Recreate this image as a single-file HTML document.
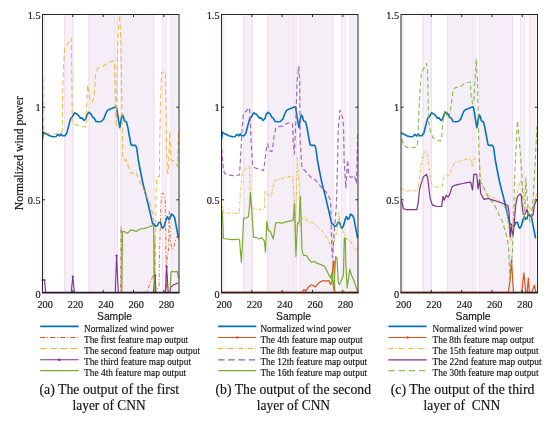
<!DOCTYPE html>
<html><head><meta charset="utf-8"><style>
html,body{margin:0;padding:0;background:#fff;}
body{width:550px;height:425px;overflow:hidden;}
svg{display:block;filter:blur(0.25px);}
text{font-family:"Liberation Serif","Times New Roman",serif;fill:#111;stroke:#111;stroke-width:0.15px;}
.s{font-family:"Liberation Sans",Arial,sans-serif;}
</style></head><body>
<svg width="550" height="425" viewBox="0 0 550 425">
<rect x="0" y="0" width="550" height="425" fill="#fff"/>

<defs><clipPath id="clip0"><rect x="42.5" y="13.5" width="136.5" height="280.0"/></clipPath><clipPath id="clip1"><rect x="221.5" y="13.5" width="136.5" height="280.0"/></clipPath><clipPath id="clip2"><rect x="401.0" y="13.5" width="136.5" height="280.0"/></clipPath></defs>
<rect x="43.3" y="14.5" width="2.0" height="278.0" fill="#f5ebf6"/>
<rect x="64.1" y="14.5" width="9.4" height="278.0" fill="#f7f0f8"/>
<rect x="88.4" y="14.5" width="29.3" height="278.0" fill="#f6eef7"/>
<rect x="120.4" y="14.5" width="34.1" height="278.0" fill="#f6eef7"/>
<rect x="162.1" y="14.5" width="4.0" height="278.0" fill="#f8f1f9"/>
<rect x="166.1" y="14.5" width="4.8" height="278.0" fill="#fcf9fd"/>
<rect x="170.9" y="14.5" width="6.8" height="278.0" fill="#f6eef7"/>
<rect x="64.10" y="14.5" width="1.2" height="278.0" fill="#efdef1"/>
<rect x="72.30" y="14.5" width="1.2" height="278.0" fill="#efdef1"/>
<rect x="88.40" y="14.5" width="1.2" height="278.0" fill="#efdef1"/>
<rect x="113.90" y="14.5" width="0.8" height="278.0" fill="#efdef1"/>
<rect x="117.05" y="14.5" width="0.9" height="278.0" fill="#efdef1"/>
<rect x="120.35" y="14.5" width="0.9" height="278.0" fill="#efdef1"/>
<rect x="153.65" y="14.5" width="0.9" height="278.0" fill="#efdef1"/>
<rect x="161.85" y="14.5" width="0.9" height="278.0" fill="#efdef1"/>
<rect x="165.80" y="14.5" width="0.8" height="278.0" fill="#efdef1"/>
<rect x="170.65" y="14.5" width="0.9" height="278.0" fill="#efdef1"/>
<rect x="222.3" y="14.5" width="2.0" height="278.0" fill="#f5ebf6"/>
<rect x="243.1" y="14.5" width="9.4" height="278.0" fill="#f7f0f8"/>
<rect x="267.4" y="14.5" width="29.3" height="278.0" fill="#f6eef7"/>
<rect x="299.4" y="14.5" width="34.1" height="278.0" fill="#f6eef7"/>
<rect x="341.1" y="14.5" width="4.0" height="278.0" fill="#f8f1f9"/>
<rect x="345.1" y="14.5" width="4.8" height="278.0" fill="#fcf9fd"/>
<rect x="349.9" y="14.5" width="6.8" height="278.0" fill="#f6eef7"/>
<rect x="243.10" y="14.5" width="1.2" height="278.0" fill="#efdef1"/>
<rect x="251.30" y="14.5" width="1.2" height="278.0" fill="#efdef1"/>
<rect x="267.40" y="14.5" width="1.2" height="278.0" fill="#efdef1"/>
<rect x="292.90" y="14.5" width="0.8" height="278.0" fill="#efdef1"/>
<rect x="296.05" y="14.5" width="0.9" height="278.0" fill="#efdef1"/>
<rect x="299.35" y="14.5" width="0.9" height="278.0" fill="#efdef1"/>
<rect x="332.65" y="14.5" width="0.9" height="278.0" fill="#efdef1"/>
<rect x="340.85" y="14.5" width="0.9" height="278.0" fill="#efdef1"/>
<rect x="344.80" y="14.5" width="0.8" height="278.0" fill="#efdef1"/>
<rect x="349.65" y="14.5" width="0.9" height="278.0" fill="#efdef1"/>
<rect x="401.8" y="14.5" width="2.0" height="278.0" fill="#f5ebf6"/>
<rect x="422.6" y="14.5" width="9.4" height="278.0" fill="#f7f0f8"/>
<rect x="446.9" y="14.5" width="29.3" height="278.0" fill="#f6eef7"/>
<rect x="478.9" y="14.5" width="34.1" height="278.0" fill="#f6eef7"/>
<rect x="520.6" y="14.5" width="4.0" height="278.0" fill="#f8f1f9"/>
<rect x="524.6" y="14.5" width="4.8" height="278.0" fill="#fcf9fd"/>
<rect x="529.4" y="14.5" width="6.8" height="278.0" fill="#f6eef7"/>
<rect x="422.60" y="14.5" width="1.2" height="278.0" fill="#efdef1"/>
<rect x="430.80" y="14.5" width="1.2" height="278.0" fill="#efdef1"/>
<rect x="446.90" y="14.5" width="1.2" height="278.0" fill="#efdef1"/>
<rect x="472.40" y="14.5" width="0.8" height="278.0" fill="#efdef1"/>
<rect x="475.55" y="14.5" width="0.9" height="278.0" fill="#efdef1"/>
<rect x="478.85" y="14.5" width="0.9" height="278.0" fill="#efdef1"/>
<rect x="512.15" y="14.5" width="0.9" height="278.0" fill="#efdef1"/>
<rect x="520.35" y="14.5" width="0.9" height="278.0" fill="#efdef1"/>
<rect x="524.30" y="14.5" width="0.8" height="278.0" fill="#efdef1"/>
<rect x="529.15" y="14.5" width="0.9" height="278.0" fill="#efdef1"/>
<g fill="none" stroke-linejoin="round" stroke-linecap="butt">
<g clip-path="url(#clip0)">
<polyline points="42.5,139.0 43.3,132.0 44.5,133.3 47.1,134.3 49.6,135.8 53.5,136.8 56.0,136.5 57.9,134.3 59.8,135.8 61.1,133.9 62.4,135.8 64.9,135.8 66.8,133.3 68.7,125.6 70.6,118.5 72.5,116.6 74.5,112.8 77.0,114.1 78.9,116.0 80.5,118.3 82.1,117.9 84.0,120.5 85.9,118.5 87.2,114.1 89.1,112.2 91.0,114.1 92.9,117.3 94.2,118.2 96.1,121.5 98.6,121.7 101.2,121.5 103.7,119.2 105.6,114.0 107.4,110.4 109.5,109.3 111.6,108.6 113.8,107.5 115.9,106.8 116.6,107.9 117.3,112.1 118.4,119.2 119.8,127.6 121.2,119.2 122.2,115.0 123.3,116.3 124.3,120.6 126.5,122.0 127.9,127.6 129.1,134.5 131.0,144.7 132.9,145.4 135.5,145.4 136.7,148.0 138.3,160.0 140.4,171.0 142.4,181.0 144.3,189.0 146.2,196.0 147.6,202.0 149.0,208.0 150.6,214.9 152.6,223.5 154.2,224.5 155.5,226.2 157.2,225.8 158.8,222.5 160.5,222.2 161.8,227.2 162.8,228.2 164.4,225.8 166.1,219.3 167.4,216.6 168.7,219.3 170.0,218.6 171.4,214.0 173.3,215.3 174.7,217.9 176.0,225.2 177.3,231.8 178.6,238.4" stroke="#0072BD" stroke-width="1.6"/>
<polyline points="42.5,292.5 120.5,292.5 121.2,226.6 121.9,292.5 146.9,292.3 149.5,284.6 152.9,275.9 154.0,277.0 154.7,240.0 155.2,292.0 159.0,286.0 159.6,250.0 160.6,215.0 161.2,200.0 161.9,193.4 163.5,193.5 164.1,194.5 165.2,200.0 165.8,240.0 166.4,290.0 167.0,260.0 168.5,250.0 169.2,210.7 169.6,212.0 170.2,240.0 171.8,249.3 174.1,246.2 174.9,242.4 176.2,238.5 177.3,236.0 178.5,240.0" stroke="#D95319" stroke-width="0.95" stroke-dasharray="4,2,1.2,2" stroke-opacity="0.85"/>
<polyline points="42.8,77.0 43.2,100.0 43.5,129.0 44.5,131.5 47.0,133.0 49.6,134.5 55.0,134.0 60.0,133.0 62.2,131.0 62.6,100.0 63.4,68.0 64.7,48.4 67.5,44.5 71.3,38.2 71.8,80.0 72.3,123.0 73.8,123.7 80.2,126.3 85.9,126.9 86.5,110.0 87.5,88.0 87.8,85.0 89.7,99.0 92.3,102.3 94.2,95.0 95.5,75.0 98.0,68.0 103.0,66.6 108.2,62.4 112.5,61.1 114.5,62.0 115.3,90.0 116.3,127.0 117.4,60.0 118.3,30.0 119.6,15.0 120.9,40.0 121.8,100.0 122.5,140.0 122.7,158.7 125.3,160.6 126.6,159.8 128.3,166.4 130.5,172.9 132.6,173.4 135.9,171.8 138.1,178.4 141.4,184.9 145.1,192.3 149.5,202.5 152.8,214.2 154.2,235.0 154.8,285.0 155.5,250.0 155.9,200.0 156.6,177.3 159.4,176.2 159.6,150.0 160.3,110.0 161.5,72.4 165.4,71.7 166.0,110.0 166.6,150.0 167.5,173.0 168.3,173.0 169.7,131.8 170.5,150.0 171.0,160.0 173.0,161.0 175.2,162.0 177.4,166.4 178.2,150.0 178.5,133.0" stroke="#EDB120" stroke-width="1.05" stroke-dasharray="5,3" stroke-opacity="0.85"/>
<polyline points="42.5,280.0 44.5,280.0 45.7,292.5 71.2,292.5 72.8,276.7 74.4,292.5 115.3,292.5 116.6,255.7 118.3,292.5 153.3,292.5 155.2,275.6 155.9,292.5 165.4,292.5 166.6,266.5 168.2,292.5 169.9,292.5 171.0,286.8 172.1,286.1 173.6,284.6 175.1,284.2 176.6,283.5 178.5,283.0" stroke="#7E2F8E" stroke-width="1.1"/>
<polyline points="42.5,292.5 121.7,292.5 122.6,231.5 124.2,231.5 127.5,233.4 130.8,229.8 133.5,230.4 136.2,231.5 139.0,229.8 140.5,229.0 144.4,228.4 147.6,227.5 150.3,226.5 152.9,225.2 153.6,225.0 154.3,292.5 169.9,292.5 171.0,271.8 172.1,271.4 174.4,271.8 176.6,271.4 177.4,271.8 178.5,278.0" stroke="#77AC30" stroke-width="1.2"/>
</g>
<g clip-path="url(#clip1)">
<polyline points="221.6,139.0 222.4,132.0 223.6,133.3 226.2,134.3 228.7,135.8 232.6,136.8 235.1,136.5 237.0,134.3 238.9,135.8 240.2,133.9 241.5,135.8 244.0,135.8 245.9,133.3 247.8,125.6 249.7,118.5 251.6,116.6 253.6,112.8 256.1,114.1 258.0,116.0 259.6,118.3 261.2,117.9 263.1,120.5 265.0,118.5 266.3,114.1 268.2,112.2 270.1,114.1 272.0,117.3 273.3,118.2 275.2,121.5 277.7,121.7 280.3,121.5 282.8,119.2 284.7,114.0 286.5,110.4 288.6,109.3 290.7,108.6 292.9,107.5 295.0,106.8 295.7,107.9 296.4,112.1 297.5,119.2 298.9,127.6 300.3,119.2 301.3,115.0 302.4,116.3 303.4,120.6 305.6,122.0 307.0,127.6 308.2,134.5 310.1,144.7 312.0,145.4 314.6,145.4 315.8,148.0 317.4,160.0 319.5,171.0 321.5,181.0 323.4,189.0 325.3,196.0 326.7,202.0 328.1,208.0 329.7,214.9 331.7,223.5 333.3,224.5 334.6,226.2 336.3,225.8 337.9,222.5 339.6,222.2 340.9,227.2 341.9,228.2 343.5,225.8 345.2,219.3 346.5,216.6 347.8,219.3 349.1,218.6 350.5,214.0 352.4,215.3 353.8,217.9 355.1,225.2 356.4,231.8 357.7,238.4" stroke="#0072BD" stroke-width="1.6"/>
<polyline points="221.5,292.3 302.0,292.3 303.9,289.5 305.8,291.4 308.4,286.9 310.9,285.0 313.5,285.6 315.4,286.9 317.3,284.4 320.5,281.8 323.6,280.5 326.2,281.2 328.7,280.5 330.6,284.4 331.9,281.8 333.2,261.5 334.0,262.0 334.8,292.3 358.5,292.3" stroke="#D95319" stroke-width="1.2"/>
<polyline points="221.5,209.0 222.3,206.0 223.5,212.9 233.7,213.5 239.5,212.9 240.2,195.0 240.7,190.0 242.6,171.0 244.5,170.5 248.4,166.1 249.5,166.5 250.0,185.0 250.5,207.0 251.5,207.8 256.6,209.1 261.7,209.7 264.3,209.1 265.0,191.0 266.2,191.3 268.1,195.1 271.3,196.4 272.5,190.0 274.5,180.7 278.3,179.5 283.4,178.2 287.2,176.9 292.9,176.5 294.1,200.0 295.2,232.0 296.5,190.0 297.6,157.6 298.8,180.0 299.9,226.0 302.5,217.4 304.3,216.5 307.0,221.0 310.3,222.9 313.5,222.3 317.3,226.7 321.1,229.9 324.9,234.4 328.7,240.7 330.6,245.8 331.9,248.4 333.0,252.0 334.5,239.5 337.0,231.8 338.9,212.7 340.2,225.5 344.0,233.1 347.8,240.7 350.4,240.7 353.5,247.1 355.5,249.6 357.0,252.0 358.3,245.0" stroke="#EDB120" stroke-width="1" stroke-dasharray="3,1.5,1,1.5" stroke-opacity="0.9"/>
<polyline points="221.8,149.0 222.5,160.0 223.5,170.5 224.8,173.7 228.6,175.0 233.7,175.6 239.5,175.0 241.0,150.0 242.0,130.0 243.3,114.1 245.8,111.5 248.4,108.7 249.5,107.7 250.3,120.0 251.0,140.0 252.8,166.7 255.4,168.0 259.2,169.3 263.6,170.5 265.0,160.0 266.8,145.0 267.5,143.8 269.4,150.8 271.9,151.5 272.9,146.2 274.0,137.0 275.6,128.4 277.8,126.7 282.2,126.2 286.5,123.4 289.8,122.9 292.5,123.4 293.1,140.0 294.4,154.0 295.8,120.0 297.2,80.0 298.8,66.5 299.7,80.0 300.2,140.0 301.4,160.0 302.0,167.8 307.1,172.9 310.9,177.4 316.0,180.5 321.1,186.9 326.2,192.0 330.6,200.0 331.9,250.0 332.5,257.6 333.8,238.2 336.4,205.1 337.6,160.0 338.3,128.0 339.5,116.5 339.8,110.2 342.5,117.1 343.5,125.0 344.1,160.0 345.9,188.2 347.6,160.0 348.8,175.3 351.2,177.6 354.1,175.3 355.3,178.8 356.5,183.5 357.2,155.0 357.8,133.0" stroke="#9b59b6" stroke-width="1.2" stroke-dasharray="4.6,2.8" stroke-opacity="0.9"/>
<polyline points="221.5,210.0 222.4,213.0 223.4,238.4 224.6,238.6 227.4,239.0 231.2,239.6 235.0,239.6 238.2,239.0 239.5,240.0 241.4,262.3 242.6,240.0 243.6,218.2 245.8,218.0 248.4,216.7 249.6,205.3 250.4,192.5 251.5,205.3 253.5,237.1 256.6,237.7 259.2,239.0 261.7,237.7 264.3,240.9 265.5,252.1 266.8,221.2 268.1,229.5 270.6,232.0 273.2,239.0 275.7,223.1 278.3,222.5 282.1,223.1 285.9,221.8 291.8,220.6 293.2,220.1 294.5,203.6 295.9,256.4 297.6,222.8 299.0,222.8 300.4,196.0 302.0,250.0 303.3,255.1 306.5,255.7 309.0,259.5 311.5,262.1 314.7,261.5 317.3,263.4 321.1,264.6 324.9,266.5 327.5,272.3 330.6,278.0 331.9,272.9 333.8,290.7 335.7,256.4 337.0,257.6 338.3,283.1 339.5,284.4 343.4,275.5 344.3,238.2 345.3,238.2 345.9,265.3 347.2,288.2 349.7,269.1 351.6,275.5 354.8,283.1 357.4,290.7 358.3,292.0" stroke="#77AC30" stroke-width="1.2"/>
</g>
<g clip-path="url(#clip2)">
<polyline points="399.5,139.0 400.3,132.0 401.5,133.3 404.1,134.3 406.6,135.8 410.5,136.8 413.0,136.5 414.9,134.3 416.8,135.8 418.1,133.9 419.4,135.8 421.9,135.8 423.8,133.3 425.7,125.6 427.6,118.5 429.5,116.6 431.5,112.8 434.0,114.1 435.9,116.0 437.5,118.3 439.1,117.9 441.0,120.5 442.9,118.5 444.2,114.1 446.1,112.2 448.0,114.1 449.9,117.3 451.2,118.2 453.1,121.5 455.6,121.7 458.2,121.5 460.7,119.2 462.6,114.0 464.4,110.4 466.5,109.3 468.6,108.6 470.8,107.5 472.9,106.8 473.6,107.9 474.3,112.1 475.4,119.2 476.8,127.6 478.2,119.2 479.2,115.0 480.3,116.3 481.3,120.6 483.5,122.0 484.9,127.6 486.1,134.5 488.0,144.7 489.9,145.4 492.5,145.4 493.7,148.0 495.3,160.0 497.4,171.0 499.4,181.0 501.3,189.0 503.2,196.0 504.6,202.0 506.0,208.0 507.6,214.9 509.6,223.5 511.2,224.5 512.5,226.2 514.2,225.8 515.8,222.5 517.5,222.2 518.8,227.2 519.8,228.2 521.4,225.8 523.1,219.3 524.4,216.6 525.7,219.3 527.0,218.6 528.4,214.0 530.3,215.3 531.7,217.9 533.0,225.2 534.3,231.8 535.6,238.4" stroke="#0072BD" stroke-width="1.6"/>
<polyline points="401.0,292.3 508.4,292.3 510.0,280.5 511.5,261.2 513.5,292.3 521.7,292.3 523.9,272.9 525.8,292.3 527.2,292.3 528.3,278.0 529.3,292.3 531.9,292.3 534.4,285.1 535.9,292.3 537.5,292.3" stroke="#D95319" stroke-width="1.2"/>
<polyline points="401.5,187.5 402.3,189.6 407.4,190.9 413.7,190.9 417.5,189.6 419.5,178.2 421.4,162.9 423.9,152.7 426.5,150.2 427.7,156.5 429.0,168.0 430.3,178.2 432.2,185.8 436.6,187.1 441.7,187.1 442.3,185.8 443.7,177.5 446.4,174.3 449.2,176.1 451.9,168.3 454.7,162.4 458.3,161.5 462.9,160.1 467.5,159.2 470.7,158.7 472.1,166.5 473.9,159.2 475.8,157.8 477.6,159.2 479.4,161.9 480.4,176.6 480.7,182.0 483.3,187.1 486.5,193.5 487.1,194.3 490.1,195.3 494.2,197.9 498.3,200.4 502.3,204.0 505.4,208.6 507.4,214.7 509.7,234.2 511.0,240.5 512.5,225.0 515.6,199.4 517.6,191.3 519.6,182.1 520.7,180.1 522.7,186.2 524.2,196.4 525.8,208.6 528.8,205.5 531.9,211.6 533.9,203.5 535.9,196.4 537.3,193.0" stroke="#EDB120" stroke-width="1" stroke-dasharray="3,1.5,1,1.5" stroke-opacity="0.9"/>
<polyline points="401.5,201.0 403.5,208.5 406.1,209.7 411.2,209.7 416.9,209.7 418.2,202.7 419.5,190.0 420.1,187.1 423.3,176.9 426.5,174.4 427.7,178.2 429.6,194.0 430.3,198.9 432.2,204.6 434.7,205.9 437.9,206.5 441.7,206.5 443.0,196.4 444.3,200.2 446.2,195.1 448.1,197.0 450.0,193.8 451.9,187.1 454.7,185.3 458.3,184.4 462.9,183.5 466.6,182.6 470.7,182.1 472.5,190.0 473.9,174.3 476.7,174.3 478.1,188.9 479.5,179.5 480.7,193.5 484.0,199.4 488.1,198.4 492.1,199.9 496.2,201.0 500.3,202.5 504.4,204.0 507.9,205.5 509.1,212.3 510.2,237.0 511.3,226.9 513.1,236.0 514.6,219.6 515.7,205.0 517.6,196.4 520.2,193.8 521.2,195.0 522.2,206.5 523.4,214.5 524.8,214.5 527.0,209.4 528.1,213.8 529.6,216.0 531.4,216.7 533.2,214.5 534.3,205.0 535.9,201.5 537.3,199.4" stroke="#7E2F8E" stroke-width="1.2"/>
<polyline points="401.8,139.0 403.4,144.8 406.7,147.2 410.8,148.1 415.0,147.2 417.4,145.6 418.2,130.0 419.0,110.0 420.1,90.0 421.4,72.9 423.3,69.1 425.2,66.5 426.5,63.4 427.5,70.0 428.2,100.0 428.4,120.0 430.3,130.9 432.8,137.3 436.6,139.8 440.5,141.1 441.7,137.3 443.0,120.0 444.9,109.9 446.2,113.1 448.1,118.2 450.0,113.1 451.3,104.0 453.2,89.5 455.7,87.5 460.2,86.9 464.6,83.1 468.5,82.5 470.5,82.0 471.0,95.0 472.5,104.0 474.0,100.0 475.0,80.0 476.3,59.1 477.5,80.0 478.8,148.0 479.5,160.0 480.1,182.0 482.0,183.9 486.5,194.3 490.1,199.0 494.2,204.5 497.2,210.6 500.3,217.8 502.3,221.1 504.4,228.2 506.4,235.4 508.4,245.5 509.0,257.8 510.0,279.5 511.5,262.0 512.5,250.6 513.5,220.0 514.5,180.0 516.4,140.0 517.5,120.8 519.3,140.0 521.9,175.0 523.0,205.0 524.0,222.0 525.0,205.0 525.8,178.0 527.0,195.0 528.5,214.0 530.0,222.0 531.5,214.0 533.0,200.0 534.5,175.0 535.8,150.0 536.9,126.6" stroke="#77AC30" stroke-width="1.1" stroke-dasharray="4.6,2.8" stroke-opacity="0.85"/>
</g>
</g>
<circle cx="42.5" cy="280" r="1.1" fill="#7E2F8E"/>
<circle cx="44.5" cy="280" r="1.1" fill="#7E2F8E"/>
<circle cx="72.8" cy="276.7" r="1.1" fill="#7E2F8E"/>
<circle cx="116.6" cy="255.7" r="1.1" fill="#7E2F8E"/>
<circle cx="155.2" cy="275.6" r="1.1" fill="#7E2F8E"/>
<circle cx="166.6" cy="266.5" r="1.1" fill="#7E2F8E"/>
<circle cx="333.5" cy="261.5" r="1.1" fill="#D95319"/>
<circle cx="511.5" cy="261.2" r="1.1" fill="#D95319"/>
<rect x="42.5" y="14.5" width="136.5" height="278.0" fill="none" stroke="#262626" stroke-width="1"/>
<line x1="42.0" y1="292.6" x2="179.5" y2="292.6" stroke="#2e1534" stroke-width="1.9"/>
<line x1="72.8" y1="292.5" x2="72.8" y2="289.9" stroke="#262626" stroke-width="1"/>
<line x1="72.8" y1="14.5" x2="72.8" y2="17.1" stroke="#262626" stroke-width="1"/>
<line x1="103.2" y1="292.5" x2="103.2" y2="289.9" stroke="#262626" stroke-width="1"/>
<line x1="103.2" y1="14.5" x2="103.2" y2="17.1" stroke="#262626" stroke-width="1"/>
<line x1="133.5" y1="292.5" x2="133.5" y2="289.9" stroke="#262626" stroke-width="1"/>
<line x1="133.5" y1="14.5" x2="133.5" y2="17.1" stroke="#262626" stroke-width="1"/>
<line x1="163.8" y1="292.5" x2="163.8" y2="289.9" stroke="#262626" stroke-width="1"/>
<line x1="163.8" y1="14.5" x2="163.8" y2="17.1" stroke="#262626" stroke-width="1"/>
<line x1="42.5" y1="199.8" x2="45.1" y2="199.8" stroke="#262626" stroke-width="1"/>
<line x1="179.0" y1="199.8" x2="176.4" y2="199.8" stroke="#262626" stroke-width="1"/>
<line x1="42.5" y1="107.2" x2="45.1" y2="107.2" stroke="#262626" stroke-width="1"/>
<line x1="179.0" y1="107.2" x2="176.4" y2="107.2" stroke="#262626" stroke-width="1"/>
<text x="40.6" y="297.6" font-size="10.3" text-anchor="end">0</text>
<text x="40.6" y="204.2" font-size="10.3" text-anchor="end">0.5</text>
<text x="40.6" y="110.7" font-size="10.3" text-anchor="end">1</text>
<text x="40.6" y="18.7" font-size="10.3" text-anchor="end">1.5</text>
<text x="45.2" y="308" font-size="10.3" text-anchor="middle">200</text>
<text x="75.5" y="308" font-size="10.3" text-anchor="middle">220</text>
<text x="105.9" y="308" font-size="10.3" text-anchor="middle">240</text>
<text x="136.2" y="308" font-size="10.3" text-anchor="middle">260</text>
<text x="166.5" y="308" font-size="10.3" text-anchor="middle">280</text>
<text class="s" x="114.5" y="319.5" font-size="11.3" text-anchor="middle" textLength="35" lengthAdjust="spacingAndGlyphs">Sample</text>
<rect x="221.5" y="14.5" width="136.5" height="278.0" fill="none" stroke="#262626" stroke-width="1"/>
<line x1="221.0" y1="292.6" x2="358.5" y2="292.6" stroke="#3a1a12" stroke-width="1.9"/>
<line x1="251.8" y1="292.5" x2="251.8" y2="289.9" stroke="#262626" stroke-width="1"/>
<line x1="251.8" y1="14.5" x2="251.8" y2="17.1" stroke="#262626" stroke-width="1"/>
<line x1="282.2" y1="292.5" x2="282.2" y2="289.9" stroke="#262626" stroke-width="1"/>
<line x1="282.2" y1="14.5" x2="282.2" y2="17.1" stroke="#262626" stroke-width="1"/>
<line x1="312.5" y1="292.5" x2="312.5" y2="289.9" stroke="#262626" stroke-width="1"/>
<line x1="312.5" y1="14.5" x2="312.5" y2="17.1" stroke="#262626" stroke-width="1"/>
<line x1="342.8" y1="292.5" x2="342.8" y2="289.9" stroke="#262626" stroke-width="1"/>
<line x1="342.8" y1="14.5" x2="342.8" y2="17.1" stroke="#262626" stroke-width="1"/>
<line x1="221.5" y1="199.8" x2="224.1" y2="199.8" stroke="#262626" stroke-width="1"/>
<line x1="358.0" y1="199.8" x2="355.4" y2="199.8" stroke="#262626" stroke-width="1"/>
<line x1="221.5" y1="107.2" x2="224.1" y2="107.2" stroke="#262626" stroke-width="1"/>
<line x1="358.0" y1="107.2" x2="355.4" y2="107.2" stroke="#262626" stroke-width="1"/>
<text x="219.6" y="297.6" font-size="10.3" text-anchor="end">0</text>
<text x="219.6" y="204.2" font-size="10.3" text-anchor="end">0.5</text>
<text x="219.6" y="110.7" font-size="10.3" text-anchor="end">1</text>
<text x="219.6" y="18.7" font-size="10.3" text-anchor="end">1.5</text>
<text x="224.2" y="308" font-size="10.3" text-anchor="middle">200</text>
<text x="254.5" y="308" font-size="10.3" text-anchor="middle">220</text>
<text x="284.9" y="308" font-size="10.3" text-anchor="middle">240</text>
<text x="315.2" y="308" font-size="10.3" text-anchor="middle">260</text>
<text x="345.5" y="308" font-size="10.3" text-anchor="middle">280</text>
<text class="s" x="293.6" y="319.5" font-size="11.3" text-anchor="middle" textLength="35" lengthAdjust="spacingAndGlyphs">Sample</text>
<rect x="401.0" y="14.5" width="136.5" height="278.0" fill="none" stroke="#262626" stroke-width="1"/>
<line x1="400.5" y1="292.6" x2="538.0" y2="292.6" stroke="#3a1a12" stroke-width="1.9"/>
<line x1="431.3" y1="292.5" x2="431.3" y2="289.9" stroke="#262626" stroke-width="1"/>
<line x1="431.3" y1="14.5" x2="431.3" y2="17.1" stroke="#262626" stroke-width="1"/>
<line x1="461.7" y1="292.5" x2="461.7" y2="289.9" stroke="#262626" stroke-width="1"/>
<line x1="461.7" y1="14.5" x2="461.7" y2="17.1" stroke="#262626" stroke-width="1"/>
<line x1="492.0" y1="292.5" x2="492.0" y2="289.9" stroke="#262626" stroke-width="1"/>
<line x1="492.0" y1="14.5" x2="492.0" y2="17.1" stroke="#262626" stroke-width="1"/>
<line x1="522.3" y1="292.5" x2="522.3" y2="289.9" stroke="#262626" stroke-width="1"/>
<line x1="522.3" y1="14.5" x2="522.3" y2="17.1" stroke="#262626" stroke-width="1"/>
<line x1="401.0" y1="199.8" x2="403.6" y2="199.8" stroke="#262626" stroke-width="1"/>
<line x1="537.5" y1="199.8" x2="534.9" y2="199.8" stroke="#262626" stroke-width="1"/>
<line x1="401.0" y1="107.2" x2="403.6" y2="107.2" stroke="#262626" stroke-width="1"/>
<line x1="537.5" y1="107.2" x2="534.9" y2="107.2" stroke="#262626" stroke-width="1"/>
<text x="399.1" y="297.6" font-size="10.3" text-anchor="end">0</text>
<text x="399.1" y="204.2" font-size="10.3" text-anchor="end">0.5</text>
<text x="399.1" y="110.7" font-size="10.3" text-anchor="end">1</text>
<text x="399.1" y="18.7" font-size="10.3" text-anchor="end">1.5</text>
<text x="403.7" y="308" font-size="10.3" text-anchor="middle">200</text>
<text x="434.0" y="308" font-size="10.3" text-anchor="middle">220</text>
<text x="464.4" y="308" font-size="10.3" text-anchor="middle">240</text>
<text x="494.7" y="308" font-size="10.3" text-anchor="middle">260</text>
<text x="525.0" y="308" font-size="10.3" text-anchor="middle">280</text>
<text class="s" x="473.1" y="319.5" font-size="11.3" text-anchor="middle" textLength="35" lengthAdjust="spacingAndGlyphs">Sample</text>
<text x="0" y="0" font-size="12" transform="translate(23.2,210.2) rotate(-90)" textLength="114" lengthAdjust="spacingAndGlyphs">Normalized wind power</text>
<line x1="40.2" y1="326.4" x2="78.6" y2="326.4" stroke="#0072BD" stroke-width="1.6"/>
<text x="84.0" y="332.0" font-size="10.3" textLength="89.8" lengthAdjust="spacingAndGlyphs">Normalized wind power</text>
<line x1="40.2" y1="337.5" x2="78.6" y2="337.5" stroke="#D95319" stroke-width="1" stroke-dasharray="5,2,1,2"/>
<text x="84.0" y="343.1" font-size="10.3" textLength="104.1" lengthAdjust="spacingAndGlyphs">The first feature map output</text>
<line x1="40.2" y1="348.6" x2="78.6" y2="348.6" stroke="#EDB120" stroke-width="1" stroke-dasharray="6.4,3.8"/>
<text x="84.0" y="354.2" font-size="10.3" textLength="116.1" lengthAdjust="spacingAndGlyphs">The second feature map output</text>
<line x1="40.2" y1="359.8" x2="78.6" y2="359.8" stroke="#7E2F8E" stroke-width="1.1"/>
<circle cx="59.4" cy="359.8" r="1.3" fill="#7E2F8E"/>
<text x="84.0" y="365.4" font-size="10.3" textLength="107.0" lengthAdjust="spacingAndGlyphs">The third feature map output</text>
<line x1="40.2" y1="370.7" x2="78.6" y2="370.7" stroke="#77AC30" stroke-width="1.3"/>
<text x="84.0" y="376.3" font-size="10.3" textLength="102.2" lengthAdjust="spacingAndGlyphs">The 4th feature map output</text>
<line x1="218.1" y1="326.4" x2="256.3" y2="326.4" stroke="#0072BD" stroke-width="1.6"/>
<text x="260.4" y="332.0" font-size="10.3" textLength="90.4" lengthAdjust="spacingAndGlyphs">Normalized wind power</text>
<line x1="218.1" y1="337.5" x2="256.3" y2="337.5" stroke="#D95319" stroke-width="1.2"/>
<circle cx="237.2" cy="337.5" r="1.3" fill="#D95319"/>
<text x="260.4" y="343.1" font-size="10.3" textLength="102.1" lengthAdjust="spacingAndGlyphs">The 4th feature map output</text>
<line x1="218.1" y1="348.6" x2="256.3" y2="348.6" stroke="#EDB120" stroke-width="1" stroke-dasharray="5,2,1,2"/>
<text x="260.4" y="354.2" font-size="10.3" textLength="102.1" lengthAdjust="spacingAndGlyphs">The 8th feature map output</text>
<line x1="218.1" y1="359.8" x2="256.3" y2="359.8" stroke="#9b59b6" stroke-width="1.3" stroke-dasharray="6.4,3.8"/>
<text x="260.4" y="365.4" font-size="10.3" textLength="106.8" lengthAdjust="spacingAndGlyphs">The 12th feature map output</text>
<line x1="218.1" y1="370.7" x2="256.3" y2="370.7" stroke="#77AC30" stroke-width="1.3"/>
<text x="260.4" y="376.3" font-size="10.3" textLength="106.8" lengthAdjust="spacingAndGlyphs">The 16th feature map output</text>
<line x1="388.4" y1="326.4" x2="426.6" y2="326.4" stroke="#0072BD" stroke-width="1.6"/>
<text x="432.6" y="332.0" font-size="10.3" textLength="90.0" lengthAdjust="spacingAndGlyphs">Normalized wind power</text>
<line x1="388.4" y1="337.5" x2="426.6" y2="337.5" stroke="#D95319" stroke-width="1.2"/>
<circle cx="407.5" cy="337.5" r="1.3" fill="#D95319"/>
<text x="432.6" y="343.1" font-size="10.3" textLength="101.2" lengthAdjust="spacingAndGlyphs">The 8th feature map output</text>
<line x1="388.4" y1="348.6" x2="426.6" y2="348.6" stroke="#EDB120" stroke-width="1" stroke-dasharray="5,2,1,2"/>
<text x="432.6" y="354.2" font-size="10.3" textLength="106.0" lengthAdjust="spacingAndGlyphs">The 15th feature map output</text>
<line x1="388.4" y1="359.8" x2="426.6" y2="359.8" stroke="#7E2F8E" stroke-width="1.3"/>
<text x="432.6" y="365.4" font-size="10.3" textLength="108.9" lengthAdjust="spacingAndGlyphs">The 22nd feature map output</text>
<line x1="388.4" y1="370.7" x2="426.6" y2="370.7" stroke="#77AC30" stroke-width="1.1" stroke-dasharray="6.4,3.8"/>
<text x="432.6" y="376.3" font-size="10.3" textLength="106.0" lengthAdjust="spacingAndGlyphs">The 30th feature map output</text>
<text x="39.5" y="393.6" font-size="13.7" textLength="139.6" lengthAdjust="spacingAndGlyphs">(a) The output of the first</text>
<text x="72.5" y="409.9" font-size="13.7" textLength="73.1" lengthAdjust="spacingAndGlyphs">layer of CNN</text>
<text x="215.5" y="393.6" font-size="13.7" textLength="155.5" lengthAdjust="spacingAndGlyphs">(b) The output of the second</text>
<text x="256.8" y="409.9" font-size="13.7" textLength="73.3" lengthAdjust="spacingAndGlyphs">layer of CNN</text>
<text x="390.7" y="393.6" font-size="13.7" textLength="143.8" lengthAdjust="spacingAndGlyphs">(c) The output of the third</text>
<text x="423.5" y="409.9" font-size="13.7" textLength="76.6" lengthAdjust="spacingAndGlyphs">layer of&#160; CNN</text>
</svg></body></html>
